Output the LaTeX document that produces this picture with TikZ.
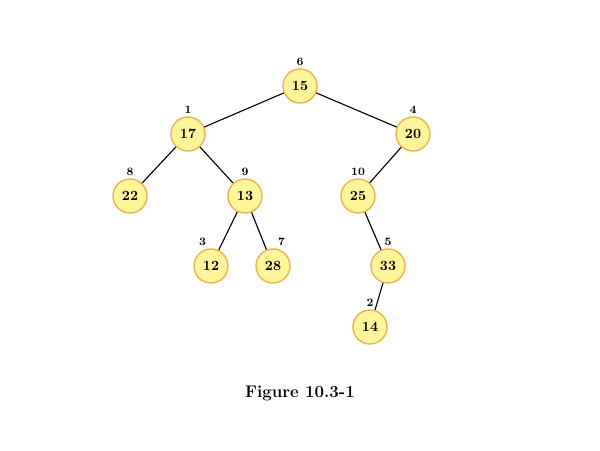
\documentclass[tikz,border=0pt]{standalone}
\usepackage{tikz}
\definecolor{nodefill}{HTML}{FFF69A}
\definecolor{nodeedge}{HTML}{EFB34A}
\tikzset{
	key/.style={circle,draw=nodeedge,fill=nodefill,line width=1pt,minimum size=0.85cm,inner sep=0pt,font=\bfseries},
	lbl/.style={font=\bfseries\footnotesize,inner sep=1pt,label distance=1pt},
	edge/.style={line width=0.8pt}
}
\begin{document}
\begin{tikzpicture}[x=0.025cm,y=-0.025cm]
	\useasboundingbox (0,0) rectangle (600,450);
	\node[key,label={[lbl]above:6}] (n15) at (300,86) {15};
	\node[key,label={[lbl]above:1}] (n17) at (188,134) {17};
	\node[key,label={[lbl]above:4}] (n20) at (413,134) {20};
	\node[key,label={[lbl]above:8}] (n22) at (130,196) {22};
	\node[key,label={[lbl]above:9}] (n13) at (245,196) {13};
	\node[key,label={[lbl]above:10}] (n25) at (358,196) {25};
	\node[key,label={[lbl]100:3}] (n12) at (211,266) {12};
	\node[key,label={[lbl]80:7}] (n28) at (273,266) {28};
	\node[key,label={[lbl]above:5}] (n33) at (388,266) {33};
	\node[key,label={[lbl]above:2}] (n14) at (370,327) {14};
	\draw[edge] (n15) -- (n17);
	\draw[edge] (n15) -- (n20);
	\draw[edge] (n17) -- (n22);
	\draw[edge] (n17) -- (n13);
	\draw[edge] (n13) -- (n12);
	\draw[edge] (n13) -- (n28);
	\draw[edge] (n20) -- (n25);
	\draw[edge] (n25) -- (n33);
	\draw[edge] (n33) -- (n14);
	\node[font=\bfseries\large] (cap) at (300,393) {Figure 10.3-1};
\end{tikzpicture}
\end{document}
